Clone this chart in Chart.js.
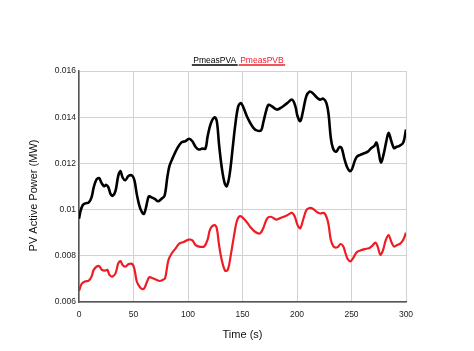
<!DOCTYPE html>
<html>
<head>
<meta charset="utf-8">
<script src="https://cdn.jsdelivr.net/npm/chart.js@4.4.1/dist/chart.umd.min.js"></script>
<style>
  body { margin: 0; background: #fff; }
  #wrap { width: 474px; height: 351px; }
</style>
</head>
<body>
<div id="wrap"><canvas id="pv_Chart" width="474" height="351"></canvas></div>
<script>
// PmeasPVA (black)
const pvaTime = [0, 1.5, 3.5, 6, 9, 11.5, 13.5, 16, 18.5, 20.5, 23, 25, 27, 29, 31, 33.5, 36, 38, 40, 42.5, 45.5, 49,
  51, 53, 55, 57, 59.5, 61.5, 64, 66.5, 69.5, 72.5, 75.5, 78.5, 81, 83, 86, 90, 94, 97.5, 101, 104, 107, 110, 113, 116,
  118, 121, 124.5, 126.5, 128.5, 131, 133.5, 135.5, 138, 141, 143, 146, 148.5, 151, 154, 157, 160, 163, 167, 169, 172,
  174, 177, 181.5, 186, 191, 195.5, 198.5, 200.5, 203, 205.5, 208.5, 211.5, 214.5, 218, 221, 224, 227, 229, 231, 233,
  236, 239, 241, 243.5, 246, 248.5, 250.5, 253, 255, 258, 261, 265, 268, 271, 273, 275, 277, 279.5, 282, 284, 286.5,
  289, 291, 294, 297.5, 300];
const pvaPower = [0.0096, 0.00995, 0.0102, 0.01027, 0.01031, 0.01053, 0.01096, 0.0113, 0.01136, 0.01117, 0.01101,
  0.01107, 0.01096, 0.01067, 0.0106, 0.01081, 0.01146, 0.01167, 0.01139, 0.01127, 0.01146, 0.01146,
  0.01124, 0.01067, 0.01024, 0.00996, 0.00981, 0.0101, 0.01057, 0.01053, 0.01046, 0.01036, 0.01046, 0.0106, 0.01139,
  0.01189, 0.01224, 0.01264, 0.01291, 0.01296, 0.01307, 0.01296, 0.01271, 0.0126, 0.01264, 0.01264,
  0.01317, 0.01374, 0.014, 0.01381, 0.01281, 0.01181, 0.01117, 0.01101, 0.01146, 0.01267, 0.01353, 0.01446, 0.01461,
  0.0144, 0.01404, 0.01376, 0.01354, 0.01343, 0.01343, 0.01376, 0.01433,
  0.01454, 0.01447, 0.01433, 0.01443, 0.01461, 0.01476, 0.01447, 0.01404, 0.01383, 0.01426, 0.0149, 0.01511, 0.01504,
  0.01486, 0.01476, 0.0148, 0.01461, 0.01411, 0.01311, 0.01266,
  0.01251, 0.01271, 0.01266, 0.01219, 0.01183, 0.01166, 0.01176, 0.01211, 0.01229, 0.01237, 0.01243, 0.01251, 0.01266,
  0.01276, 0.0129, 0.01247, 0.01204, 0.0124, 0.01297, 0.01333, 0.01297,
  0.01266, 0.01271, 0.01276, 0.0129, 0.01347];

// PmeasPVB (red)
const pvbTime = [0, 2.5, 5.5, 9, 11.5, 13.5, 17, 19, 21, 24, 26, 28, 30.5, 33.5, 36, 38, 40, 42.5, 45.5, 49, 51, 53,
  55.5, 58, 60, 62.5, 64.5, 67.5, 71, 74, 77, 79, 82, 85, 88.5, 92, 96, 100.5, 104, 107, 111, 115, 118, 120.5, 124.5,
  126.5, 128.5, 131, 134, 136.5, 139, 142, 145, 148, 152.5, 157, 161.5, 166, 169, 172.5, 176, 181, 186, 191, 195.5,
  198, 200.5, 203, 205.5, 208.5, 211.5, 214.5, 218, 221.5, 224.5, 227, 229, 231, 233.5, 237, 240, 242.5, 244.5,
  246.5, 249, 251.5, 254.5, 258, 262, 266, 269, 272, 274, 276.5, 279, 281.5, 284, 286.5, 289, 292, 295, 297.5, 300];
const pvbPower = [0.00648, 0.00679, 0.00689, 0.00693, 0.0071, 0.00739, 0.00756, 0.00753, 0.00739, 0.00736, 0.00739,
  0.00717, 0.0071, 0.00724, 0.00767, 0.00777, 0.0076, 0.00753, 0.00764, 0.00764, 0.00739, 0.00689,
  0.00667, 0.00656, 0.0066, 0.00689, 0.00707, 0.00703, 0.00696, 0.00691, 0.00696, 0.00703, 0.00781, 0.0081, 0.00831,
  0.00853, 0.0086, 0.0087, 0.00867, 0.00846, 0.00839, 0.00841, 0.0087, 0.00917, 0.00933,
  0.00917, 0.00846, 0.00781, 0.00736, 0.00739, 0.00796, 0.00881, 0.00953, 0.00972, 0.00954, 0.00926, 0.00904,
  0.00897, 0.00919, 0.00961, 0.00969, 0.00957, 0.00966, 0.00976, 0.00986,
  0.00969, 0.00933, 0.00919, 0.00954, 0.00997, 0.01007, 0.01004, 0.0099, 0.00983, 0.00986, 0.00969, 0.00933, 0.00869,
  0.0084, 0.00837, 0.00851, 0.0084, 0.00811,
  0.00786, 0.00776, 0.0079, 0.00814, 0.00823, 0.00829, 0.00833, 0.00843, 0.00857, 0.0084, 0.00804, 0.00826, 0.00869,
  0.0089, 0.00861, 0.0084, 0.00847, 0.00854, 0.00869, 0.009];

const timeTicks = [0, 50, 100, 150, 200, 250, 300];
const powerTicks = [0.006, 0.008, 0.01, 0.012, 0.014, 0.016];

const FONT = '"Liberation Sans", Arial, sans-serif';
const Y_TITLE = 'PV Active Power (MW)';

function toPoints(xs, ys) {
    return xs.map((x, i) => ({ x: x, y: ys[i] }));
}

// legend: coloured label text with a line underneath, plus the y title
// (drawn by hand because it sits a little below the middle of the axis)
const underlineLegend = {
    id: 'underlineLegend',
    afterDraw(chart) {
        const ctx = chart.ctx;
        const area = chart.chartArea;
        const sets = chart.data.datasets;
        ctx.save();
        ctx.font = '8.5px ' + FONT;
        ctx.textBaseline = 'alphabetic';
        const gap = 4;
        const widths = sets.map(ds => ctx.measureText(ds.label).width);
        const total = widths.reduce((a, b) => a + b, 0) + gap * (sets.length - 1);
        let x = (area.left + area.right) / 2 - total / 2 - 4;
        const y = area.top - 8;
        sets.forEach((ds, i) => {
            ctx.fillStyle = ds.borderColor;
            ctx.fillText(ds.label, x, y);
            ctx.strokeStyle = ds.borderColor;
            ctx.lineWidth = 1.5;
            ctx.beginPath();
            ctx.moveTo(x - 1.5, y + 2);
            ctx.lineTo(x + widths[i] + 1.5, y + 2);
            ctx.stroke();
            x += widths[i] + gap;
        });

        // y axis title
        ctx.font = '11px ' + FONT;
        ctx.fillStyle = '#111';
        ctx.textAlign = 'center';
        ctx.textBaseline = 'middle';
        ctx.translate(34, (area.top + area.bottom) / 2 + 9);
        ctx.rotate(-Math.PI / 2);
        ctx.fillText(Y_TITLE, 0, 0);
        ctx.restore();
    }
};

const ctx = document.getElementById('pv_Chart').getContext('2d');
const pv_Chart = new Chart(ctx, {
    type: 'line',
    data: {
        datasets: [{
            label: 'PmeasPVA',
            data: toPoints(pvaTime, pvaPower),
            borderColor: '#000000',
            borderWidth: 2.6,
            pointRadius: 0,
            fill: false,
            tension: 0.35
        },
        {
            label: 'PmeasPVB',
            data: toPoints(pvbTime, pvbPower),
            borderColor: '#ee1c25',
            borderWidth: 2.2,
            pointRadius: 0,
            fill: false,
            tension: 0.35
        }]
    },
    options: {
        responsive: false,
        animation: false,
        layout: { padding: { top: 71, right: 68, left: 0, bottom: 0 } },
        plugins: {
            legend: { display: false },
            tooltip: { enabled: false }
        },
        scales: {
            x: {
                type: 'linear',
                min: timeTicks[0],
                max: timeTicks[timeTicks.length - 1],
                afterBuildTicks: function(scale) {
                    scale.ticks = timeTicks.map(v => ({ value: v }));
                },
                afterFit: function(scale) { scale.height = 49; },
                ticks: { color: '#222', font: { family: FONT, size: 8.5 }, padding: 8, maxRotation: 0 },
                grid: { color: '#d2d2d2', drawTicks: false },
                border: { color: '#555', width: 1.5 },
                title: {
                    display: true, text: 'Time (s)', color: '#111',
                    font: { family: FONT, size: 11 }, padding: { top: 0, bottom: 9 }
                }
            },
            y: {
                type: 'linear',
                min: powerTicks[0],
                max: powerTicks[powerTicks.length - 1],
                afterBuildTicks: function(scale) {
                    scale.ticks = powerTicks.map(v => ({ value: v }));
                },
                afterFit: function(scale) { scale.width = 79; },
                ticks: {
                    color: '#222', font: { family: FONT, size: 8.5 }, padding: 3,
                    callback: function(value) { return String(+value.toFixed(3)); }
                },
                grid: { color: '#d2d2d2', drawTicks: false },
                border: { color: '#555', width: 1.5 }
            }
        }
    },
    plugins: [underlineLegend]
});
</script>
</body>
</html>
